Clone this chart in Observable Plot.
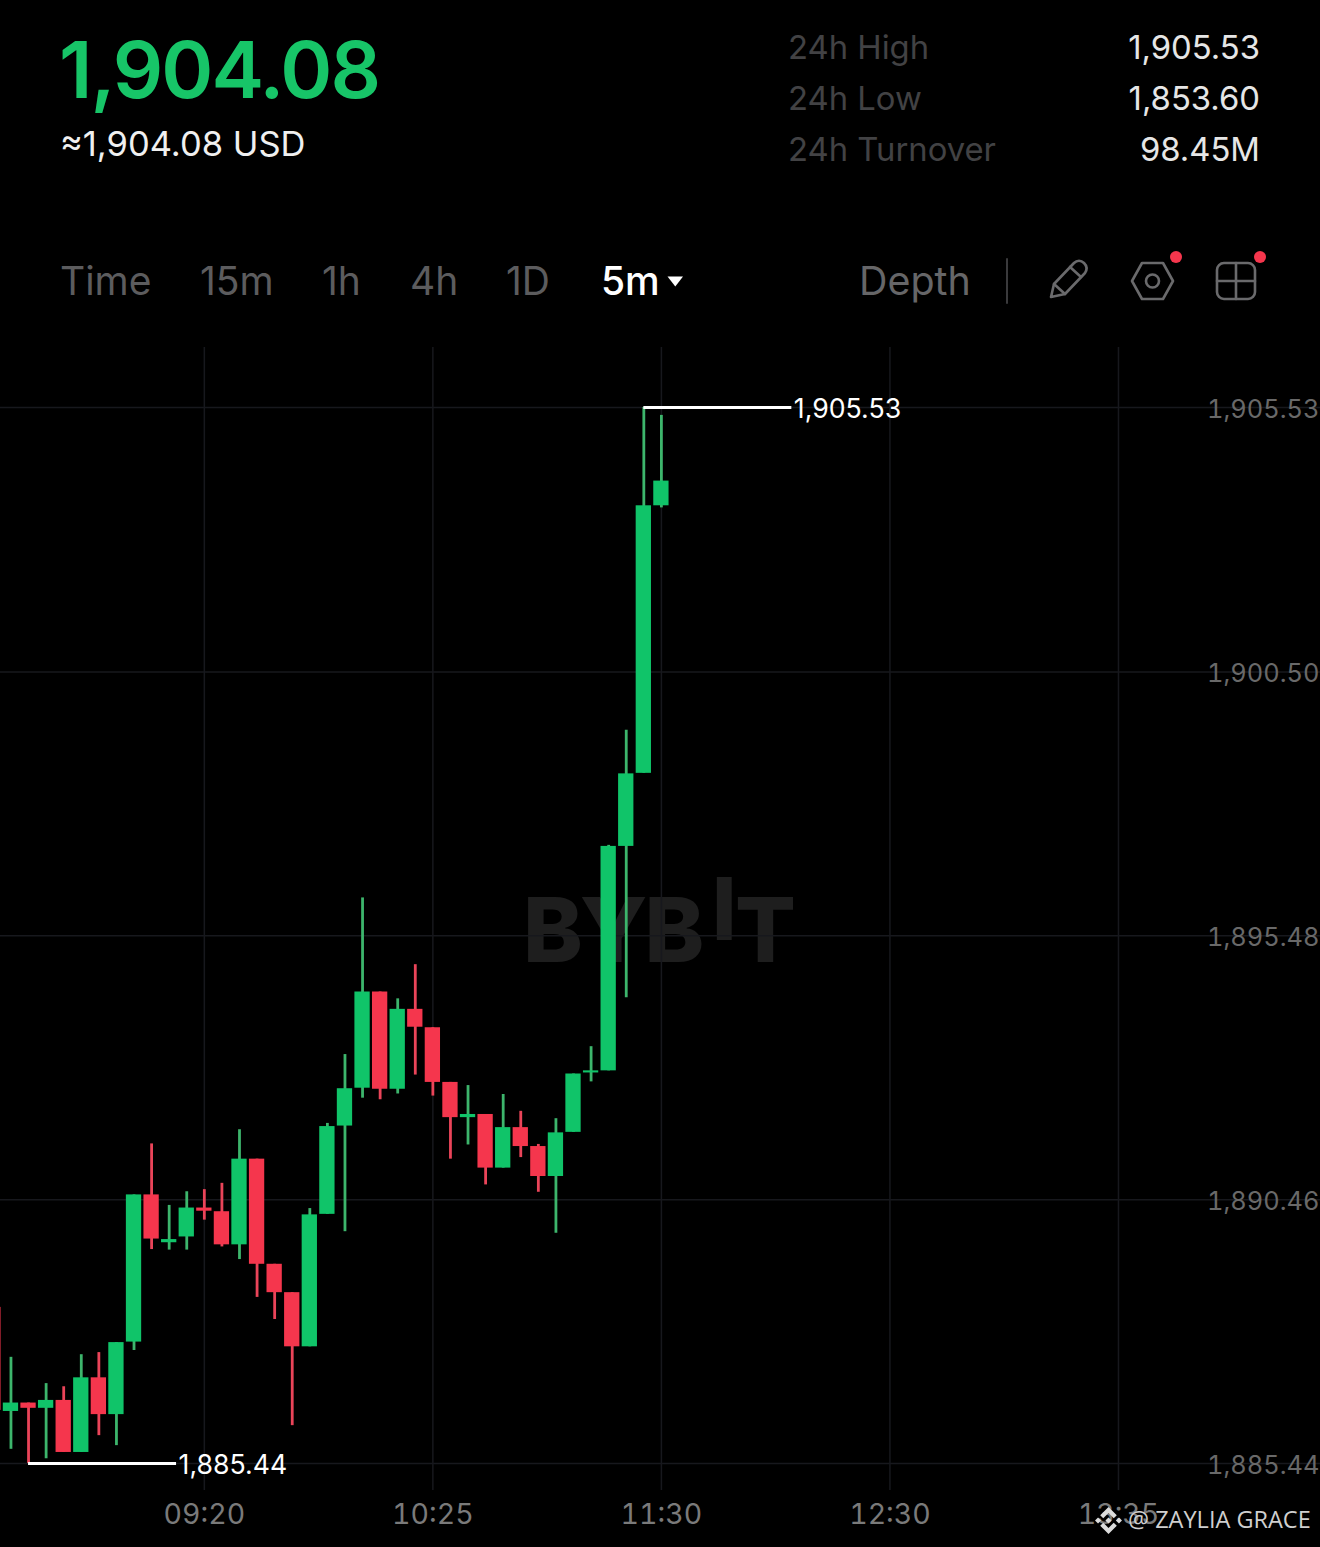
<!DOCTYPE html>
<html>
<head>
<meta charset="utf-8">
<script src="https://cdn.jsdelivr.net/npm/d3@7"></script>
<script src="https://cdn.jsdelivr.net/npm/@observablehq/plot@0.6"></script>
<style>
  html,body{margin:0;padding:0;background:#000;width:1320px;height:1547px;overflow:hidden;font-family:Inter,Roboto,sans-serif}
  #page{position:relative;width:1320px;height:1547px}
  #header{position:relative;height:347px}
  .abs{position:absolute;white-space:nowrap;line-height:1}
  #chart{position:absolute;left:0;top:347px}
  #wm span{position:absolute;line-height:1;font-weight:800;color:#1e1e1e;font-size:90px}
</style>
</head>
<body>
<div id="page">
  <div id="wm"></div>
  <div id="header"></div>
  <div id="chart"></div>
</div>
<script>
const opens  = [1888.41,1886.43,1886.59,1886.49,1886.64,1885.65,1887.07,1886.37,1887.75,1890.55,1889.64,1889.75,1890.30,1890.23,1889.60,1891.23,1889.23,1888.69,1887.66,1890.18,1891.86,1892.58,1894.41,1892.56,1894.08,1893.73,1892.69,1892.02,1892.08,1891.06,1891.83,1891.47,1890.90,1891.74,1892.87,1892.91,1897.18,1898.57,1903.66];
const highs  = [1888.41,1887.46,1886.59,1886.96,1886.90,1887.51,1887.55,1887.74,1890.55,1891.52,1890.35,1890.61,1890.65,1890.77,1891.79,1891.23,1889.23,1888.69,1890.29,1891.91,1893.22,1896.20,1894.41,1894.28,1894.93,1893.73,1892.69,1892.63,1892.08,1892.46,1892.14,1891.51,1892.00,1892.85,1893.37,1897.20,1899.39,1905.53,1905.38];
const lows   = [1886.45,1885.71,1885.44,1885.53,1885.65,1885.65,1885.97,1885.78,1887.59,1889.51,1889.50,1889.50,1890.07,1889.56,1889.32,1888.60,1888.18,1886.16,1887.66,1890.18,1889.85,1892.39,1892.36,1892.47,1892.83,1892.43,1891.23,1891.50,1890.74,1891.06,1891.26,1890.60,1889.82,1891.74,1892.70,1892.91,1894.30,1898.57,1903.62];
const closes = [1886.45,1886.59,1886.49,1886.64,1885.65,1887.07,1886.37,1887.74,1890.55,1889.71,1889.70,1890.30,1890.24,1889.60,1891.23,1889.23,1888.69,1887.66,1890.17,1891.85,1892.57,1894.41,1892.56,1894.08,1893.74,1892.69,1892.02,1892.08,1891.06,1891.83,1891.47,1890.90,1891.73,1892.85,1892.91,1897.18,1898.56,1903.66,1904.13];
const priceTicks = [1905.53,1900.50,1895.48,1890.46,1885.44];
const timeTickIndex = [12,25,38,51,64];
const timeTickLabels = ["09:20","10:25","11:30","12:30","13:35"];
const tabs = ["Time","15m","1h","4h","1D","5m"];
const stats = [["24h High","1,905.53"],["24h Low","1,853.60"],["24h Turnover","98.45M"]];

const GREEN="#10c469", RED="#f5364d", WICK_G="#3db56c", WICK_R="#ea4459";
const candles = opens.map((o,i)=>({i,o,h:highs[i],l:lows[i],c:closes[i],up:closes[i]>=o}));
const fmt = d3.format(",.2f");
const extremes = [
  {from:37,to:45.42,p:1905.53},
  {from:2,to:10.42,p:1885.44}
];

const chart = Plot.plot({
  width:1320,height:1200,marginTop:0,marginBottom:57,marginLeft:0,marginRight:0,
  style:{background:"transparent",fontFamily:"Inter, Roboto, sans-serif"},
  x:{domain:[0.405,75.492],range:[0,1320]},
  y:{domain:[1885.44,1905.53],range:[1116,60]},
  marks:[
    Plot.ruleY(priceTicks,{stroke:"#17181d",strokeWidth:1.5}),
    Plot.ruleX(timeTickIndex,{stroke:"#17181d",strokeWidth:1.5}),
    Plot.ruleX(candles,{filter:d=>d.up,x:"i",y1:"l",y2:"h",stroke:WICK_G,strokeWidth:2.8}),
    Plot.ruleX(candles,{filter:d=>!d.up,x:"i",y1:"l",y2:"h",stroke:WICK_R,strokeWidth:2.8}),
    Plot.rect(candles,{filter:d=>d.up,x1:d=>d.i-0.435,x2:d=>d.i+0.435,y1:"o",y2:"c",fill:GREEN}),
    Plot.rect(candles,{filter:d=>!d.up,x1:d=>d.i-0.435,x2:d=>d.i+0.435,y1:"o",y2:"c",fill:RED}),
    Plot.ruleY(extremes,{y:"p",x1:"from",x2:"to",stroke:"#fff",strokeWidth:2.8}),
    Plot.text(extremes,{x:"to",y:"p",text:d=>fmt(d.p),textAnchor:"start",dx:2,dy:2,fill:"#fff",fontSize:26.7}),
    Plot.axisY(priceTicks,{anchor:"right",tickSize:0,tickPadding:0,textAnchor:"end",tickFormat:fmt,fill:"#696969",fontSize:25.4,label:null,dx:-1,dy:2}),
    Plot.axisX(timeTickIndex,{anchor:"bottom",tickSize:0,tickPadding:13,tickFormat:(d,k)=>timeTickLabels[k],fill:"#7a7a7a",fontSize:28.5,label:null})
  ]
});
document.getElementById("chart").append(chart);

// watermark beneath the chart
const wm=document.getElementById("wm");
[["BYB",523,885],["T",735,885]].forEach(([t,x,y])=>{const s=document.createElement("span");s.textContent=t;s.style.left=x+"px";s.style.top=y+"px";s.style.letterSpacing="-3px";wm.append(s);});
const bar=document.createElement("span");bar.textContent="I";bar.style.cssText="left:712px;top:866px;font-size:86px;font-weight:800;";wm.append(bar);

// header
const h=document.getElementById("header");
function add(text,css){const e=document.createElement("div");e.className="abs";e.textContent=text;e.style.cssText+=css;h.append(e);return e;}
add("1,904.08","left:59px;top:30px;font-size:79px;font-weight:600;color:#17c568;letter-spacing:-2px;");
add("≈1,904.08 USD","left:60px;top:127px;font-size:34.500px;color:#f0f0f0;");
stats.forEach(([k,v],i)=>{
  const y=[31,82,133][i];
  add(k,`left:788px;top:${y}px;font-size:32.800px;color:#424244;`);
  add(v,`right:60px;top:${y}px;font-size:32.800px;color:#e6e6e6;`);
});
[60,200,322,410,506,601].forEach((x,i)=>{
  add(tabs[i],`left:${x}px;top:261px;font-size:39px;`+(i===5?"color:#fff;font-weight:500;":"color:#5c5c5e;"));
});
add("Depth","left:859px;top:262px;font-size:39.400px;color:#666668;");
const icons=document.createElement("div");
icons.innerHTML=`<svg class="abs" style="left:0;top:0" width="1320" height="347" fill="none" stroke="#6a6a6c" stroke-width="2.600" stroke-linejoin="round" stroke-linecap="round">
<path d="M667.500 276.500h15.500l-7.700 10z" fill="#fff" stroke="none"/>
<line x1="1007" y1="259" x2="1007" y2="303" stroke="#3a3a3c" stroke-width="2"/>
<path d="M1051 297l3-13 20-21c3-3 7-3 10 0 3 3 3 7 1 10l-20 21z"/>
<path d="M1054 284l11 10M1070 267l11 10"/>
<path d="M1132 281l10-18h21l10 18-10 18h-21z"/>
<circle cx="1152.500" cy="281" r="6.500"/>
<rect x="1217" y="263" width="38" height="36" rx="7"/>
<path d="M1236 263v36M1217 281h38"/>
<circle cx="1176" cy="257" r="6" fill="#f5364d" stroke="none"/>
<circle cx="1260" cy="257" r="6" fill="#f5364d" stroke="none"/>
</svg>`;
h.append(icons);

// credit overlay
const pg=document.getElementById("page");
const c=document.createElement("div");c.className="abs";c.textContent="@ ZAYLIA GRACE";
c.style.cssText+="left:1128px;top:1508px;font-size:23.500px;color:#cfcfcf;font-family:'Open Sans';";
pg.append(c);
const ic=document.createElement("div");
ic.innerHTML=`<svg class="abs" style="left:1095px;top:1507px" width="27" height="27" viewBox="0 0 126.600 126.600" fill="#dcdcdc"><path d="M38.730 53.200L63.300 28.630l24.580 24.580 14.300-14.300L63.300 0 24.430 38.880zM0 63.300l14.300-14.300 14.300 14.300-14.300 14.300zM38.730 73.400L63.300 97.970l24.580-24.580 14.310 14.290-38.890 38.900-38.870-38.870zM97.990 63.300l14.300-14.300 14.300 14.300-14.300 14.300zM77.830 63.290L63.300 48.760 48.780 63.280l14.520 14.520z"/></svg>`;
pg.append(ic);
</script>
</body>
</html>
